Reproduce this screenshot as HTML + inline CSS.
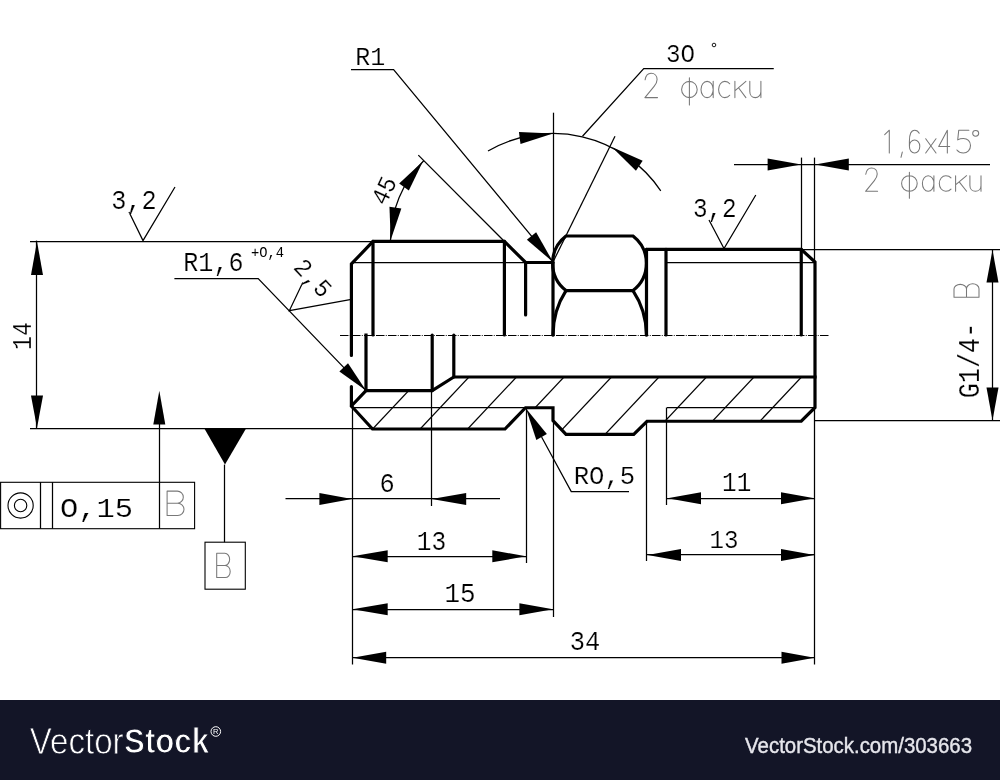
<!DOCTYPE html>
<html><head><meta charset="utf-8"><style>
html,body{margin:0;padding:0;background:#fff;}
svg{display:block;will-change:transform;}
</style></head><body>
<svg width="1000" height="780" viewBox="0 0 1000 780">
<rect width="1000" height="780" fill="#fff"/>
<defs><clipPath id="sc"><polygon points="351.4,406 366,390.6 432.2,390.6 453.8,377 815,377 815,407.5 801.25,421.25 647,421.25 633.7,434.3 566,434.3 553,420.5 553,407.75 525.5,407.75 505,429 372.5,429"/></clipPath></defs>
<g clip-path="url(#sc)" stroke="#000" stroke-width="1.25"><line x1="389.98" y1="360" x2="305.38" y2="450"/><line x1="437.48" y1="360" x2="352.88" y2="450"/><line x1="484.98" y1="360" x2="400.38" y2="450"/><line x1="532.48" y1="360" x2="447.88" y2="450"/><line x1="579.98" y1="360" x2="495.38" y2="450"/><line x1="627.48" y1="360" x2="542.88" y2="450"/><line x1="674.98" y1="360" x2="590.38" y2="450"/><line x1="722.48" y1="360" x2="637.88" y2="450"/><line x1="769.98" y1="360" x2="685.38" y2="450"/><line x1="817.48" y1="360" x2="732.88" y2="450"/><line x1="864.98" y1="360" x2="780.38" y2="450"/></g>
<polyline points="30.00,241.50 373.00,241.50" fill="none" stroke="#000" stroke-width="1.25" />
<polyline points="30.00,428.50 372.50,428.50" fill="none" stroke="#000" stroke-width="1.25" />
<polyline points="36.50,240.60 36.50,428.80" fill="none" stroke="#000" stroke-width="1.25" />
<polygon points="37.00,241.50 31.00,275.00 43.00,275.00" fill="#000"/>
<polygon points="37.00,428.00 43.00,395.50 31.00,395.50" fill="#000"/>
<text transform="translate(21.50,335.65) rotate(-90) scale(0.2343,0.2818) translate(-61.00,33.00)" font-family="Liberation Mono" font-size="100" fill="#000" stroke="#fff" stroke-width="0.78">14</text>
<polyline points="129.00,212.00 143.00,240.60 175.00,187.00" fill="none" stroke="#000" stroke-width="1.25" />
<text transform="translate(111.36,208.72) scale(0.2523,0.2765)" font-family="Liberation Mono" font-size="100" font-weight="normal" fill="#000" stroke="#fff" stroke-width="0.76" >3,2</text>
<polyline points="174.40,278.50 258.20,278.50 366.00,390.60" fill="none" stroke="#000" stroke-width="1.25" />
<polygon points="366.00,390.60 348.03,363.24 339.37,371.56" fill="#000"/>
<text transform="translate(183.29,271.13) scale(0.2510,0.2676)" font-family="Liberation Mono" font-size="100" font-weight="normal" fill="#000" stroke="#fff" stroke-width="0.77" >R1,6</text>
<text transform="translate(250.94,257.05) scale(0.1377,0.1500)" font-family="Liberation Mono" font-size="100" font-weight="normal" fill="#000" >+O,4</text>
<polyline points="302.90,282.30 289.40,310.60 351.40,299.30" fill="none" stroke="#000" stroke-width="1.25" />
<text transform="translate(313.20,278.00) rotate(47) scale(0.2366,0.2500) translate(-90.25,33.00)" font-family="Liberation Mono" font-size="100" fill="#000" stroke="#fff" stroke-width="0.82">2,5</text>
<polyline points="340.00,335.50 829.00,335.50" fill="none" stroke="#000" stroke-width="1.1" stroke-dasharray="8.5,1.3,0.9,1.3"/>
<polyline points="351.00,69.50 393.60,69.50 553.00,262.00" fill="none" stroke="#000" stroke-width="1.25" />
<polygon points="553.00,262.00 536.12,232.18 526.88,239.82" fill="#000"/>
<text transform="translate(355.20,64.80) scale(0.2505,0.2667)" font-family="Liberation Mono" font-size="100" font-weight="normal" fill="#000" stroke="#fff" stroke-width="0.77" >R1</text>
<polyline points="418.30,155.10 504.00,241.00" fill="none" stroke="#000" stroke-width="1.25" />
<path d="M390.50,241.00 A113.50,113.50 0 0 1 423.74,160.74" fill="none" stroke="#000" stroke-width="1.25"/>
<polygon points="390.70,240.00 401.34,208.46 389.46,206.74" fill="#000"/>
<polygon points="423.00,161.20 399.17,183.44 408.83,190.56" fill="#000"/>
<text transform="translate(383.90,190.60) rotate(-65) scale(0.2304,0.2537) translate(-59.25,32.50)" font-family="Liberation Mono" font-size="100" fill="#000" stroke="#fff" stroke-width="0.83">45</text>
<polyline points="553.50,112.70 553.50,262.00" fill="none" stroke="#000" stroke-width="1.25" />
<path d="M488.00,150.92 A130.00,130.00 0 0 1 660.77,190.80" fill="none" stroke="#000" stroke-width="1.25"/>
<polygon points="553.00,133.60 518.91,132.05 520.49,143.95" fill="#000"/>
<polygon points="611.80,147.00 635.93,170.66 642.67,160.74" fill="#000"/>
<polyline points="615.00,136.25 553.00,262.00" fill="none" stroke="#000" stroke-width="1.25" />
<polyline points="582.50,136.25 643.75,68.50 773.75,68.50" fill="none" stroke="#000" stroke-width="1.25" />
<text transform="translate(665.93,62.25) scale(0.2419,0.2507)" font-family="Liberation Mono" font-size="100" font-weight="normal" fill="#000" stroke="#fff" stroke-width="0.81" >3O</text>
<circle cx="714" cy="45" r="1.8" fill="none" stroke="#000" stroke-width="0.9"/>
<g fill="none" stroke="#787878" stroke-width="1.05" stroke-linecap="round" stroke-linejoin="round"><path transform="translate(644.50,73.25) scale(1.0000,1.0146)" d="M0.6,6.5 C1.2,2.5 3.8,0 6.6,0 C10.2,0 12.6,2.6 12.6,6.2 C12.6,8.8 11.6,10.6 9.6,13 L0.4,24 L13,24" vector-effect="non-scaling-stroke"/><path transform="translate(681.60,73.25) scale(1.0000,1.0146)" d="M7.8,8 C3.4,8 0,11.6 0,16 C0,20.4 3.4,24 7.8,24 C12.2,24 15.6,20.4 15.6,16 C15.6,11.6 12.2,8 7.8,8 Z M7.8,4.5 L7.8,31.2" vector-effect="non-scaling-stroke"/><path transform="translate(701.00,73.25) scale(1.0000,1.0146)" d="M12.2,16 C12.2,11.6 9.6,8 6.1,8 C2.6,8 0,11.6 0,16 C0,20.4 2.6,24 6.1,24 C9.6,24 12.2,20.4 12.2,16 Z M12.2,8 L12.2,24" vector-effect="non-scaling-stroke"/><path transform="translate(718.60,73.25) scale(1.0000,1.0146)" d="M11.1,10.3 C10,8.8 8.2,8 6.2,8 C2.7,8 0,11.6 0,16 C0,20.4 2.7,24 6.2,24 C8.2,24 10,23.2 11.1,21.7" vector-effect="non-scaling-stroke"/><path transform="translate(734.90,73.25) scale(1.0000,1.0146)" d="M0,8 L0,24 M11,8 L0.2,17.2 M3.6,14.3 L11,24" vector-effect="non-scaling-stroke"/><path transform="translate(749.80,73.25) scale(1.0000,1.0146)" d="M0,8 L0,18 C0,21.6 2.4,24 5.5,24 C8.6,24 11.1,21.6 11.1,18 M11.1,8 L11.1,24" vector-effect="non-scaling-stroke"/></g>
<polyline points="734.00,164.50 990.00,164.50" fill="none" stroke="#000" stroke-width="1.25" />
<polygon points="801.20,164.60 767.60,158.60 767.60,170.60" fill="#000"/>
<polygon points="815.20,164.60 848.80,170.60 848.80,158.60" fill="#000"/>
<polyline points="801.50,157.60 801.50,249.40" fill="none" stroke="#000" stroke-width="1.25" />
<polyline points="814.50,157.60 814.50,262.00" fill="none" stroke="#000" stroke-width="1.25" />
<g fill="none" stroke="#787878" stroke-width="1.05" stroke-linecap="round" stroke-linejoin="round"><path transform="translate(884.70,130.20) scale(1.0000,0.9500)" d="M0,4.6 L4.6,0 L4.6,24" vector-effect="non-scaling-stroke"/><path transform="translate(901.00,130.20) scale(0.9286,0.9500)" d="M1.4,23 L0,28.5" vector-effect="non-scaling-stroke"/><path transform="translate(909.40,130.20) scale(0.9811,0.9500)" d="M10,3.2 C9,1.1 7.3,0 5.3,0 C1.8,0 0,4.2 0,11.5 L0,16.8 C0,21 2.3,24 5.3,24 C8.3,24 10.6,21 10.6,17 C10.6,13 8.3,10.4 5.3,10.4 C2.3,10.4 0,13 0,16.8" vector-effect="non-scaling-stroke"/><path transform="translate(925.70,130.20) scale(0.9904,0.9500)" d="M0,9 L10.4,24 M10.4,9 L0,24" vector-effect="non-scaling-stroke"/><path transform="translate(938.70,130.20) scale(0.9821,0.9500)" d="M8.8,24 L8.8,0 L0,17.2 L11.2,17.2" vector-effect="non-scaling-stroke"/><path transform="translate(956.90,130.20) scale(1.0149,0.9500)" d="M11.8,0 L1.8,0 L0.8,10.2 C2.4,9.2 4.2,8.7 6.4,8.7 C10.4,8.7 13.4,11.8 13.4,16.2 C13.4,20.8 10.4,24 6.4,24 C3.8,24 1.5,22.9 0,20.8" vector-effect="non-scaling-stroke"/><path transform="translate(972.70,130.50) scale(1.0000,0.9500)" d="M3,0 C4.7,0 6,1.3 6,3 C6,4.7 4.7,6 3,6 C1.3,6 0,4.7 0,3 C0,1.3 1.3,0 3,0 Z" vector-effect="non-scaling-stroke"/></g>
<g fill="none" stroke="#787878" stroke-width="1.05" stroke-linecap="round" stroke-linejoin="round"><path transform="translate(865.20,167.90) scale(0.9538,0.9750)" d="M0.6,6.5 C1.2,2.5 3.8,0 6.6,0 C10.2,0 12.6,2.6 12.6,6.2 C12.6,8.8 11.6,10.6 9.6,13 L0.4,24 L13,24" vector-effect="non-scaling-stroke"/><path transform="translate(901.60,167.90) scale(1.0000,0.9750)" d="M7.8,8 C3.4,8 0,11.6 0,16 C0,20.4 3.4,24 7.8,24 C12.2,24 15.6,20.4 15.6,16 C15.6,11.6 12.2,8 7.8,8 Z M7.8,4.5 L7.8,31.2" vector-effect="non-scaling-stroke"/><path transform="translate(922.40,167.90) scale(0.9435,0.9750)" d="M12.2,16 C12.2,11.6 9.6,8 6.1,8 C2.6,8 0,11.6 0,16 C0,20.4 2.6,24 6.1,24 C9.6,24 12.2,20.4 12.2,16 Z M12.2,8 L12.2,24" vector-effect="non-scaling-stroke"/><path transform="translate(939.30,167.90) scale(1.0541,0.9750)" d="M11.1,10.3 C10,8.8 8.2,8 6.2,8 C2.7,8 0,11.6 0,16 C0,20.4 2.7,24 6.2,24 C8.2,24 10,23.2 11.1,21.7" vector-effect="non-scaling-stroke"/><path transform="translate(955.60,167.90) scale(1.0000,0.9750)" d="M0,8 L0,24 M11,8 L0.2,17.2 M3.6,14.3 L11,24" vector-effect="non-scaling-stroke"/><path transform="translate(969.90,167.90) scale(1.0000,0.9750)" d="M0,8 L0,18 C0,21.6 2.4,24 5.5,24 C8.6,24 11.1,21.6 11.1,18 M11.1,8 L11.1,24" vector-effect="non-scaling-stroke"/></g>
<polyline points="801.00,249.50 1000.00,249.50" fill="none" stroke="#000" stroke-width="1.25" />
<polyline points="815.00,420.50 1000.00,420.50" fill="none" stroke="#000" stroke-width="1.25" />
<polyline points="992.50,249.40 992.50,421.00" fill="none" stroke="#000" stroke-width="1.25" />
<polygon points="992.50,250.00 986.50,282.50 998.50,282.50" fill="#000"/>
<polygon points="992.50,420.50 998.50,387.40 986.50,387.40" fill="#000"/>
<text transform="translate(969.45,361.85) rotate(-90) scale(0.2514,0.2956) translate(-144.50,33.00)" font-family="Liberation Mono" font-size="100" fill="#000" stroke="#fff" stroke-width="0.73">G1/4-</text>
<path transform="translate(954,297.3) rotate(-90) scale(0.7941,1.0417)" d="M0,24 L0,0 L10.3,0 C13.6,0 16.3,2.7 16.3,6 C16.3,9.3 13.6,12 10.3,12 L0,12 M10.3,12 L10.8,12 C14.3,12 17,14.7 17,18 C17,21.3 14.3,24 10.8,24 L0,24" fill="none" stroke="#787878" stroke-width="1.05" stroke-linecap="round" stroke-linejoin="round" vector-effect="non-scaling-stroke"/>
<polyline points="709.00,220.00 724.00,248.50 755.80,195.00" fill="none" stroke="#000" stroke-width="1.25" />
<text transform="translate(692.92,216.72) scale(0.2432,0.2765)" font-family="Liberation Mono" font-size="100" font-weight="normal" fill="#000" stroke="#fff" stroke-width="0.77" >3,2</text>
<polyline points="351.00,262.50 525.60,262.50" fill="none" stroke="#000" stroke-width="1.25" />
<polyline points="666.00,262.50 815.00,262.50" fill="none" stroke="#000" stroke-width="1.25" />
<polyline points="351.00,407.50 525.50,407.50" fill="none" stroke="#000" stroke-width="1.25" />
<polyline points="667.00,407.50 815.00,407.50" fill="none" stroke="#000" stroke-width="1.25" />
<polyline points="666.50,407.50 666.50,505.00" fill="none" stroke="#000" stroke-width="1.25" />
<polyline points="285.50,498.50 500.00,498.50" fill="none" stroke="#000" stroke-width="1.25" />
<polygon points="352.00,499.00 319.40,493.00 319.40,505.00" fill="#000"/>
<polygon points="431.70,499.00 466.20,505.00 466.20,493.00" fill="#000"/>
<polyline points="431.50,390.60 431.50,506.00" fill="none" stroke="#000" stroke-width="1.25" />
<polyline points="352.50,407.90 352.50,664.60" fill="none" stroke="#000" stroke-width="1.25" />
<text transform="translate(379.59,492.02) scale(0.2543,0.2838)" font-family="Liberation Mono" font-size="100" font-weight="normal" fill="#000" stroke="#fff" stroke-width="0.74" >6</text>
<polyline points="352.00,556.50 526.20,556.50" fill="none" stroke="#000" stroke-width="1.25" />
<polygon points="352.50,556.30 387.70,562.30 387.70,550.30" fill="#000"/>
<polygon points="526.00,556.30 492.30,550.30 492.30,562.30" fill="#000"/>
<polyline points="526.50,407.75 526.50,563.00" fill="none" stroke="#000" stroke-width="1.25" />
<text transform="translate(416.78,549.52) scale(0.2451,0.2824)" font-family="Liberation Mono" font-size="100" font-weight="normal" fill="#000" stroke="#fff" stroke-width="0.76" >13</text>
<polyline points="352.00,609.50 553.20,609.50" fill="none" stroke="#000" stroke-width="1.25" />
<polygon points="352.50,609.20 387.70,615.20 387.70,603.20" fill="#000"/>
<polygon points="553.00,609.20 519.40,603.20 519.40,615.20" fill="#000"/>
<polyline points="553.50,421.00 553.50,617.00" fill="none" stroke="#000" stroke-width="1.25" />
<text transform="translate(444.39,602.22) scale(0.2592,0.2791)" font-family="Liberation Mono" font-size="100" font-weight="normal" fill="#000" stroke="#fff" stroke-width="0.74" >15</text>
<polyline points="352.00,657.50 814.50,657.50" fill="none" stroke="#000" stroke-width="1.25" />
<polygon points="352.50,657.70 386.20,663.70 386.20,651.70" fill="#000"/>
<polygon points="814.50,657.70 781.50,651.70 781.50,663.70" fill="#000"/>
<polyline points="814.50,407.50 814.50,664.40" fill="none" stroke="#000" stroke-width="1.25" />
<text transform="translate(569.85,650.33) scale(0.2544,0.2721)" font-family="Liberation Mono" font-size="100" font-weight="normal" fill="#000" stroke="#fff" stroke-width="0.76" >34</text>
<polyline points="667.00,498.50 815.00,498.50" fill="none" stroke="#000" stroke-width="1.25" />
<polygon points="667.50,498.25 701.00,504.25 701.00,492.25" fill="#000"/>
<polygon points="814.50,498.25 781.00,492.25 781.00,504.25" fill="#000"/>
<text transform="translate(722.05,491.00) scale(0.2431,0.2735)" font-family="Liberation Mono" font-size="100" font-weight="normal" fill="#000" stroke="#fff" stroke-width="0.77" >11</text>
<polyline points="647.00,554.50 815.00,554.50" fill="none" stroke="#000" stroke-width="1.25" />
<polygon points="647.50,555.00 681.00,561.00 681.00,549.00" fill="#000"/>
<polygon points="814.50,555.00 781.00,549.00 781.00,561.00" fill="#000"/>
<polyline points="646.50,421.00 646.50,561.00" fill="none" stroke="#000" stroke-width="1.25" />
<text transform="translate(709.56,547.74) scale(0.2418,0.2618)" font-family="Liberation Mono" font-size="100" font-weight="normal" fill="#000" stroke="#fff" stroke-width="0.79" >13</text>
<polygon points="526.00,408.50 536.34,439.88 546.86,434.12" fill="#000"/>
<polyline points="541.60,437.00 571.25,491.50 629.00,491.50" fill="none" stroke="#000" stroke-width="1.25" />
<text transform="translate(573.70,484.24) scale(0.2561,0.2581)" font-family="Liberation Mono" font-size="100" font-weight="normal" fill="#000" stroke="#fff" stroke-width="0.78" >RO,5</text>
<polyline points="159.50,424.00 159.50,482.10" fill="none" stroke="#000" stroke-width="1.25" />
<polygon points="159.30,390.70 153.30,424.60 165.30,424.60" fill="#000"/>
<polygon points="204.5,428.8 245.9,428.8 225,464.6" fill="#000"/>
<polyline points="224.50,464.60 224.50,542.20" fill="none" stroke="#000" stroke-width="1.25" />
<rect x="205" y="542.2" width="40.3" height="47" fill="none" stroke="#000" stroke-width="1.1"/>
<g fill="none" stroke="#787878" stroke-width="1.05" stroke-linecap="round" stroke-linejoin="round"><path transform="translate(216.70,553.30) scale(0.7941,1.0125)" d="M0,24 L0,0 L10.3,0 C13.6,0 16.3,2.7 16.3,6 C16.3,9.3 13.6,12 10.3,12 L0,12 M10.3,12 L10.8,12 C14.3,12 17,14.7 17,18 C17,21.3 14.3,24 10.8,24 L0,24" vector-effect="non-scaling-stroke"/></g>
<rect x="0.6" y="482.3" width="194" height="46.4" fill="none" stroke="#000" stroke-width="1.1"/>
<polyline points="40.50,482.10 40.50,528.60" fill="none" stroke="#000" stroke-width="1.25" />
<polyline points="52.50,482.10 52.50,528.60" fill="none" stroke="#000" stroke-width="1.25" />
<polyline points="159.50,482.10 159.50,528.60" fill="none" stroke="#000" stroke-width="1.25" />
<circle cx="20.6" cy="505.5" r="12.6" fill="none" stroke="#000" stroke-width="1.1"/>
<circle cx="20.6" cy="505.5" r="6.2" fill="none" stroke="#000" stroke-width="1.1"/>
<text transform="translate(59.98,516.52) scale(0.3046,0.2824)" font-family="Liberation Mono" font-size="100" font-weight="normal" fill="#000" stroke="#fff" stroke-width="0.68" >O,15</text>
<g fill="none" stroke="#787878" stroke-width="1.05" stroke-linecap="round" stroke-linejoin="round"><path transform="translate(167.10,491.10) scale(0.9941,1.0125)" d="M0,24 L0,0 L10.3,0 C13.6,0 16.3,2.7 16.3,6 C16.3,9.3 13.6,12 10.3,12 L0,12 M10.3,12 L10.8,12 C14.3,12 17,14.7 17,18 C17,21.3 14.3,24 10.8,24 L0,24" vector-effect="non-scaling-stroke"/></g>
<polyline points="351.40,355.50 351.40,264.00 373.00,241.40 504.40,241.40 525.60,262.50 553.00,262.50" fill="none" stroke="#000" stroke-width="3.2" stroke-linejoin="miter" stroke-linecap="round"/>
<polyline points="373.00,241.40 373.00,335.00" fill="none" stroke="#000" stroke-width="3.2"  stroke-linecap="round"/>
<polyline points="504.40,241.40 504.40,335.00" fill="none" stroke="#000" stroke-width="3.2"  stroke-linecap="round"/>
<polyline points="525.60,262.50 525.60,315.00" fill="none" stroke="#000" stroke-width="3.2" stroke-linecap="round"/>
<polyline points="553.00,262.50 553.00,335.00" fill="none" stroke="#000" stroke-width="3.2"  stroke-linecap="round"/>
<path d="M566,236 L633,236 A34.5,34.5 0 0 1 633,290.6 L566,290.6 A34.5,34.5 0 0 1 566,236 Z" fill="none" stroke="#000" stroke-width="3.2"/>
<path d="M566.00,290.60 A81.00,81.00 0 0 0 553.00,335.00" fill="none" stroke="#000" stroke-width="3.2" stroke-linecap="round"/>
<path d="M633.00,290.60 A81.00,81.00 0 0 1 646.50,335.00" fill="none" stroke="#000" stroke-width="3.2" stroke-linecap="round"/>
<polyline points="646.50,249.40 646.50,335.00" fill="none" stroke="#000" stroke-width="3.2"  stroke-linecap="round"/>
<polyline points="646.50,249.40 801.25,249.40 815.00,262.00 815.00,407.50 801.25,421.25 647.00,421.25 633.70,434.30 566.00,434.30 553.00,420.50 553.00,407.75 525.50,407.75 505.00,429.00 372.50,429.00 351.40,406.00 351.40,386.50" fill="none" stroke="#000" stroke-width="3.2" stroke-linejoin="miter" stroke-linecap="round"/>
<polyline points="801.25,249.40 801.25,335.00" fill="none" stroke="#000" stroke-width="3.2"  stroke-linecap="round"/>
<polyline points="666.00,249.40 666.00,335.00" fill="none" stroke="#000" stroke-width="3.2"  stroke-linecap="round"/>
<polyline points="366.00,335.00 366.00,390.60 432.20,390.60 453.80,377.00 815.00,377.00" fill="none" stroke="#000" stroke-width="3.2" stroke-linejoin="miter" stroke-linecap="square"/>
<polyline points="351.40,406.00 366.00,390.60" fill="none" stroke="#000" stroke-width="3.2"  stroke-linecap="round"/>
<polyline points="432.20,335.00 432.20,390.60" fill="none" stroke="#000" stroke-width="3.2"  stroke-linecap="round"/>
<polyline points="453.80,335.00 453.80,377.00" fill="none" stroke="#000" stroke-width="3.2"  stroke-linecap="round"/>
<rect x="0" y="700" width="1000" height="80" fill="#131527"/>
<text transform="translate(29.73,753.60) scale(0.3313,0.3696)" font-family="Liberation Sans" font-size="100" font-weight="normal" fill="#ffffff" stroke="#131527" stroke-width="2.2">Vector</text>
<text transform="translate(124.06,753.24) scale(0.3123,0.3592)" font-family="Liberation Sans" font-size="100" font-weight="bold" fill="#ffffff" stroke="#131527" stroke-width="3.2">Stock</text>
<circle cx="215.8" cy="731.5" r="4.8" fill="none" stroke="#fff" stroke-width="1"/>
<text x="215.8" y="734.3" font-family="Liberation Sans" font-size="7.5" fill="#fff" text-anchor="middle">R</text>
<text transform="translate(745.10,753.20) scale(0.2042,0.2116)" font-family="Liberation Sans" font-size="100" font-weight="normal" fill="#e6e6ec" stroke="#e6e6ec" stroke-width="1.8">VectorStock.com/303663</text>
</svg></body></html>
